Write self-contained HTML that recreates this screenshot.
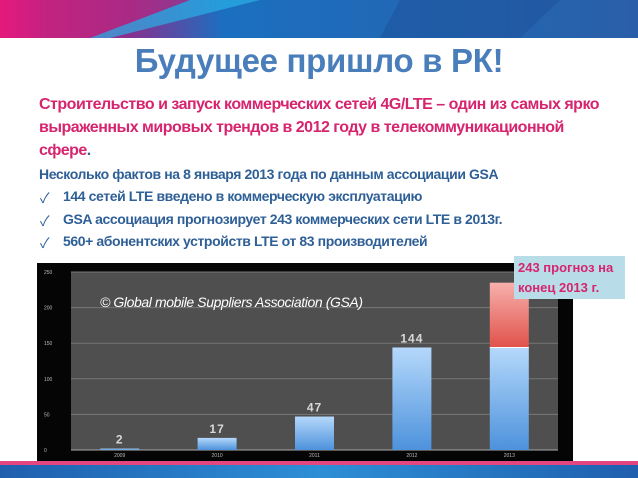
<!DOCTYPE html>
<html><head><meta charset="utf-8"><style>
body{margin:0;width:638px;height:478px;overflow:hidden;background:#fff;font-family:"Liberation Sans","Noto Sans CJK SC",sans-serif;position:relative}
.t{position:absolute;left:39px;font-weight:bold;font-size:15px;white-space:nowrap;letter-spacing:-0.4px}
.r{color:#d6246e;font-size:16px;letter-spacing:-0.5px}.b{color:#2e5f96}
.ck{position:absolute;left:40px;font-size:14px;color:#2e5f96}
</style></head><body>
<svg style="position:absolute;left:0;top:0" width="638" height="38">
<defs><linearGradient id="tb" x1="0" x2="1"><stop offset="0" stop-color="#e5197c"/><stop offset="0.2" stop-color="#8a2f8e"/><stop offset="0.35" stop-color="#1b6fc0"/><stop offset="1" stop-color="#2a5fa8"/></linearGradient></defs>
<rect width="638" height="38" fill="url(#tb)"/>
<polygon points="40,0 190,0 90,38 40,38" fill="#c0267f" opacity="0.6"/>
<polygon points="190,0 260,0 110,38 90,38" fill="#2ab0e6" opacity="0.7"/>
<polygon points="400,0 560,0 520,38 380,38" fill="#1d4f9a" opacity="0.5"/>
</svg>
<div style="position:absolute;left:0;width:638px;top:42px;text-align:center;font-size:33px;font-weight:bold;color:#4a7ebb;letter-spacing:-0.3px">Будущее пришло в РК!</div>
<div class="t r" style="top:96px">Строительство и запуск коммерческих сетей 4G/LTE – один из самых ярко</div>
<div class="t r" style="top:119px">выраженных мировых трендов в 2012 году в телекоммуникационной</div>
<div class="t r" style="top:142px">сфере<span class="b">.</span></div>
<div class="t b" style="top:166px;font-size:14px">Несколько фактов на 8 января 2013 года по данным ассоциации GSA</div>
<div class="ck" style="top:188px">✓</div>
<div class="t b" style="top:188px;left:63px;font-size:14px">144  сетей LTE  введено в коммерческую эксплуатацию</div>
<div class="ck" style="top:211px">✓</div>
<div class="t b" style="top:211px;left:63px;font-size:14px">GSA ассоциация прогнозирует 243  коммерческих сети LTE  в 2013г.</div>
<div class="ck" style="top:233px">✓</div>
<div class="t b" style="top:233px;left:63px;font-size:14px">560+ абонентских устройств LTE от 83 производителей</div>

<svg id="chart" style="position:absolute;left:0;top:0" width="638" height="478">
<defs>
<linearGradient id="bl" x1="0" y1="0" x2="0" y2="1"><stop offset="0" stop-color="#b5d8fb"/><stop offset="1" stop-color="#4d92dc"/></linearGradient>
<linearGradient id="rd" x1="0" y1="0" x2="0" y2="1"><stop offset="0" stop-color="#f8b0ac"/><stop offset="1" stop-color="#e0524a"/></linearGradient>
</defs>
<rect x="37" y="263" width="536" height="198" fill="#050505"/>
<rect x="71" y="272" width="487" height="178" fill="#4f4f4f"/>
<g id="grid"></g><g id="bars"></g><g id="labels"></g>
<text x="100" y="307" fill="#fff" font-size="14" font-style="italic" letter-spacing="-0.4" font-family="Liberation Sans, sans-serif">© Global mobile Suppliers Association (GSA)</text>
</svg>
<div style="position:absolute;left:514px;top:256px;width:111px;height:43px;background:#b8dde8;color:#d6246e;font-weight:bold;font-size:13px;line-height:20px;padding:2px 0 0 4px;box-sizing:border-box">243 прогноз на<br>конец 2013 г.</div>
<div style="position:absolute;left:0;top:461px;width:638px;height:4px;background:#e2477f"></div>
<div style="position:absolute;left:0;top:465px;width:638px;height:13px;background:linear-gradient(90deg,#1f5fae,#2d8fd6,#1f5fae)"></div>
<script>
const categories=["2009","2010","2011","2012","2013"];
const actual=[2,17,47,144,144];
const forecast=[0,0,0,0,91];
const valueLabels=["2","17","47","144",""];
const yTicks=[0,50,100,150,200,250];
const NS="http://www.w3.org/2000/svg";
const x0=71,pw=487,y0=450,ph=178,yMax=250;
const band=pw/categories.length,bw=39;
const xc=i=>x0+band*(i+0.5);
const y=v=>y0-v/yMax*ph;
function mk(t,a,p){const e=document.createElementNS(NS,t);for(const k in a)e.setAttribute(k,a[k]);p.appendChild(e);return e;}
const grid=document.getElementById('grid'),bars=document.getElementById('bars'),labels=document.getElementById('labels');
yTicks.forEach(v=>{
 const l=mk('line',{x1:x0,x2:x0+pw,y1:y(v),y2:y(v),stroke:v===0?'#aaa':'#777','stroke-width':1},grid);
 
 
 const t=mk('text',{x:44,y:y(v)+2,fill:'#bbb','font-size':5,'font-family':'Liberation Sans, sans-serif'},grid);
 t.textContent=v;
 
 
});
categories.forEach((c,i)=>{
 const b=mk('rect',{x:xc(i)-bw/2,y:y(actual[i]),width:bw,height:y0-y(actual[i]),fill:'url(#bl)'},bars);
 
 
 if(forecast[i]>0){
  const f=mk('rect',{x:xc(i)-bw/2,y:y(actual[i]+forecast[i]),width:bw,height:y(actual[i])-y(actual[i]+forecast[i]),fill:'url(#rd)'},bars);
  
  
  mk('line',{x1:xc(i)-bw/2,x2:xc(i)+bw/2,y1:y(actual[i]),y2:y(actual[i]),stroke:'#fff','stroke-width':1},bars);
 }
 const t=mk('text',{x:xc(i),y:457,fill:'#bbb','font-size':5,'text-anchor':'middle','font-family':'Liberation Sans, sans-serif'},labels);
 t.textContent=c;
 
 
 if(valueLabels[i]){
  const v=mk('text',{x:xc(i),y:y(actual[i])-5,fill:'#d8d8d8','font-size':12,'font-weight':'bold','text-anchor':'middle','font-family':'Liberation Sans, sans-serif','letter-spacing':'1'},labels);
  v.textContent=valueLabels[i];
  
  
 }
});
</script>
</body></html>
